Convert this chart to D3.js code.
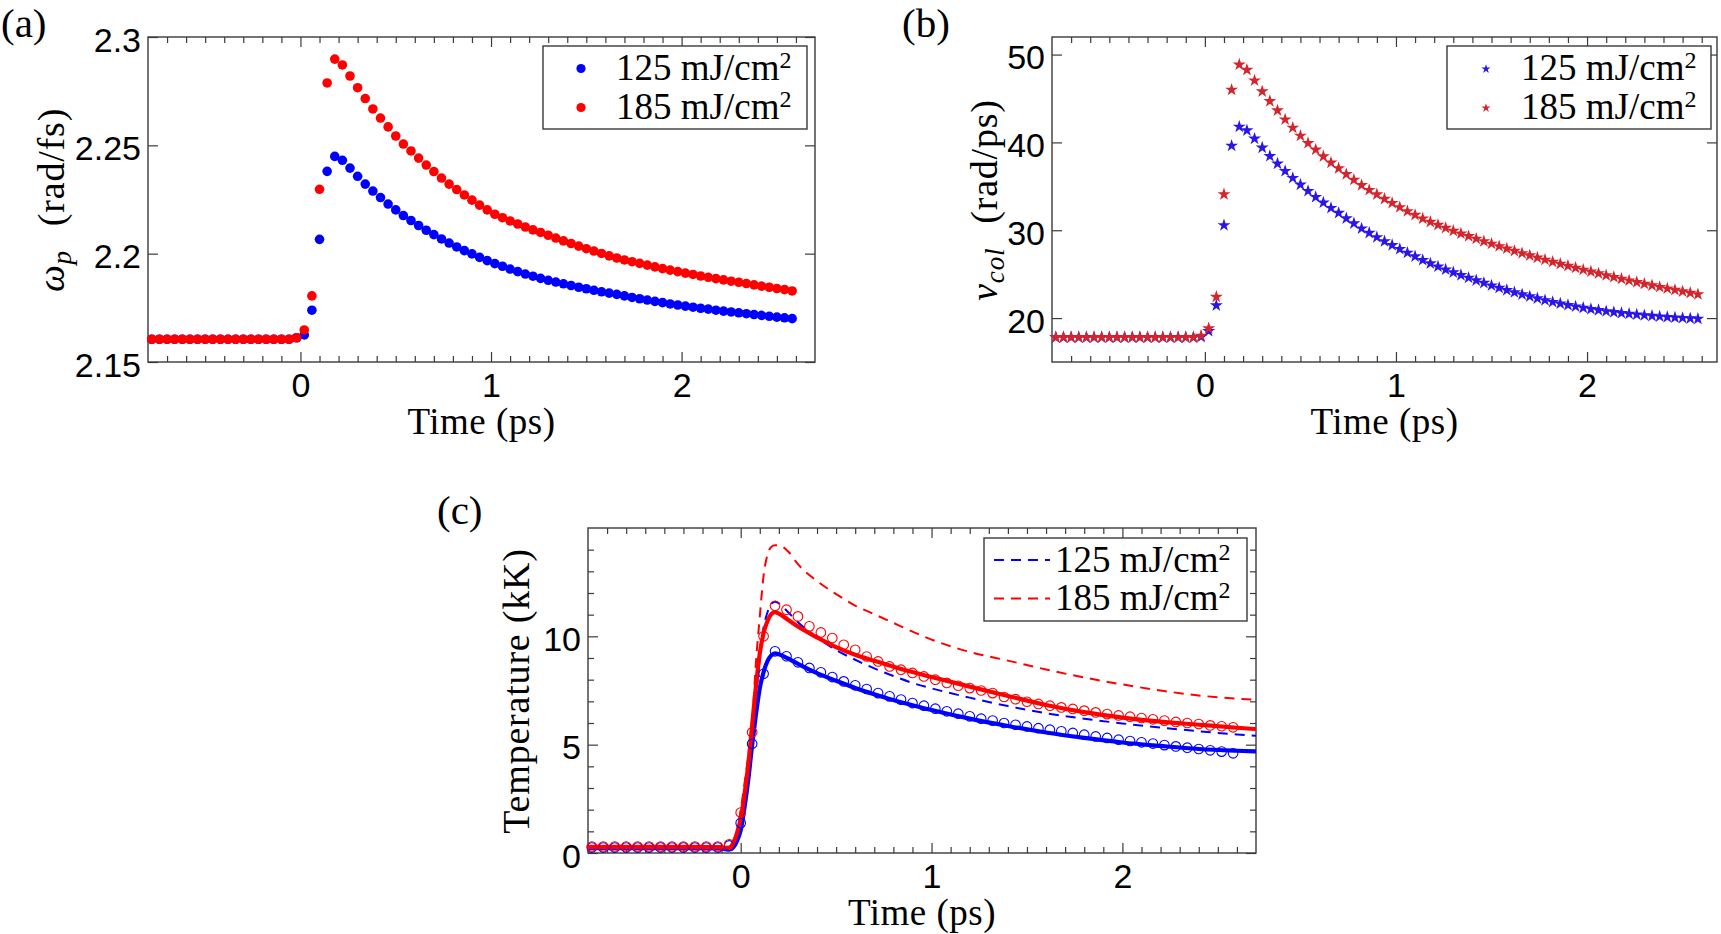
<!DOCTYPE html>
<html>
<head>
<meta charset="utf-8">
<script src="https://cdn.jsdelivr.net/npm/d3@7"></script>
<style>
  html, body { margin: 0; padding: 0; background: #fff; }
  svg { display: block; }
</style>
</head>
<body>
<script>
// ---------------- DATA ----------------
const TIME_AB = [-0.78,-0.74,-0.70,-0.66,-0.62,-0.58,-0.54,-0.50,-0.46,-0.42,-0.38,-0.34,-0.30,-0.26,-0.22,-0.18,-0.14,-0.10,-0.06,
  -0.02,0.02,0.06,0.10,0.14,0.18,0.22,0.26,0.30,0.34,0.38,0.42,0.46,0.50,0.54,0.58,0.62,0.66,0.70,0.74,0.78,0.82,0.86,0.90,0.94,0.98,
  1.02,1.06,1.10,1.14,1.18,1.22,1.26,1.30,1.34,1.38,1.42,1.46,1.50,1.54,1.58,1.62,1.66,1.70,1.74,1.78,1.82,1.86,1.90,1.94,1.98,
  2.02,2.06,2.10,2.14,2.18,2.22,2.26,2.30,2.34,2.38,2.42,2.46,2.50,2.54,2.58];

const WP_125 = [2.1605,2.1605,2.1605,2.1605,2.1605,2.1605,2.1605,2.1605,2.1605,2.1605,2.1605,2.1605,2.1605,2.1605,2.1605,2.1605,2.1605,2.1605,2.1605,
  2.1612,2.1625,2.1739,2.2066,2.2380,2.2449,2.2431,2.2395,2.2357,2.2321,2.2289,2.2259,2.2229,2.2202,2.2176,2.2153,2.2130,2.2108,2.2088,2.2068,
  2.2049,2.2031,2.2014,2.1999,2.1983,2.1968,2.1954,2.1942,2.1929,2.1917,2.1906,2.1896,2.1886,2.1877,2.1869,2.1861,2.1853,2.1845,2.1838,2.1831,
  2.1824,2.1818,2.1812,2.1805,2.1798,2.1792,2.1786,2.1780,2.1774,2.1768,2.1763,2.1758,2.1753,2.1748,2.1744,2.1739,2.1735,2.1731,2.1727,2.1723,
  2.1719,2.1715,2.1711,2.1707,2.1704,2.1700];

const WP_185 = [2.1605,2.1605,2.1605,2.1605,2.1605,2.1605,2.1605,2.1605,2.1605,2.1605,2.1605,2.1605,2.1605,2.1605,2.1605,2.1605,2.1605,2.1605,2.1605,
  2.1612,2.1648,2.1805,2.2297,2.2788,2.2898,2.2871,2.2820,2.2766,2.2716,2.2668,2.2626,2.2585,2.2543,2.2506,2.2474,2.2441,2.2409,2.2379,2.2349,
  2.2321,2.2296,2.2271,2.2247,2.2224,2.2202,2.2182,2.2166,2.2151,2.2137,2.2123,2.2110,2.2098,2.2085,2.2072,2.2059,2.2047,2.2035,2.2023,2.2012,
  2.2001,2.1990,2.1980,2.1971,2.1963,2.1955,2.1947,2.1939,2.1931,2.1924,2.1917,2.1910,2.1904,2.1897,2.1891,2.1885,2.1879,2.1873,2.1868,2.1862,
  2.1856,2.1850,2.1845,2.1839,2.1834,2.1828];

const NU_125 = [17.8,17.8,17.8,17.8,17.8,17.8,17.8,17.8,17.8,17.8,17.8,17.8,17.8,17.8,17.8,17.8,17.8,17.8,17.8,
  17.85,18.52,21.44,30.57,39.62,41.78,41.36,40.42,39.4,38.44,37.58,36.74,35.95,35.19,34.47,33.78,33.15,32.53,31.97,31.35,
  30.78,30.2,29.7,29.2,28.74,28.3,27.86,27.44,27.02,26.6,26.22,25.86,25.52,25.2,24.89,24.59,24.29,24.0,23.71,23.44,
  23.18,22.93,22.69,22.46,22.24,22.03,21.83,21.65,21.48,21.32,21.17,21.03,20.9,20.78,20.67,20.57,20.48,20.4,20.32,20.25,
  20.18,20.12,20.06,20.01,19.96,19.92];

const NU_185 = [17.8,17.8,17.8,17.8,17.8,17.8,17.8,17.8,17.8,17.8,17.8,17.8,17.8,17.8,17.8,17.8,17.8,17.8,17.8,
  17.99,18.83,22.42,34.09,45.99,48.86,48.26,47.05,45.8,44.7,43.64,42.61,41.67,40.76,39.92,39.17,38.41,37.69,37.05,36.38,
  35.74,35.13,34.58,34.08,33.57,33.1,32.62,32.16,31.74,31.33,30.95,30.6,30.26,29.93,29.62,29.32,29.03,28.74,28.46,28.18,
  27.91,27.64,27.38,27.13,26.88,26.64,26.4,26.17,25.94,25.72,25.5,25.29,25.08,24.87,24.67,24.47,24.28,24.09,23.9,23.72,
  23.54,23.37,23.2,23.03,22.87,22.71];

const TIME_C_PTS = [-0.78,-0.72,-0.66,-0.60,-0.54,-0.48,-0.42,-0.36,-0.30,-0.24,-0.18,-0.12,-0.06,
  0.00,0.06,0.12,0.18,0.24,0.30,0.36,0.42,0.48,0.54,0.60,0.66,0.72,0.78,0.84,0.90,0.96,1.02,1.08,1.14,1.20,1.26,1.32,1.38,1.44,
  1.50,1.56,1.62,1.68,1.74,1.80,1.86,1.92,1.98,2.04,2.10,2.16,2.22,2.28,2.34,2.40,2.46,2.52,2.58];

const T_125_PTS = [0.25,0.25,0.25,0.25,0.25,0.25,0.25,0.25,0.25,0.25,0.25,0.25,0.35,
  1.38,5.04,8.27,9.31,9.08,8.80,8.54,8.34,8.12,7.92,7.74,7.57,7.38,7.23,7.08,6.92,6.80,6.66,6.54,6.43,6.31,6.20,6.11,6.0,5.92,
  5.84,5.76,5.69,5.62,5.54,5.46,5.38,5.31,5.23,5.17,5.11,5.05,4.98,4.92,4.86,4.80,4.74,4.68,4.6];

const T_185_PTS = [0.3,0.3,0.3,0.3,0.3,0.3,0.3,0.3,0.3,0.3,0.3,0.3,0.4,
  1.87,5.57,10.0,11.41,11.23,10.92,10.46,10.18,9.92,9.61,9.38,9.07,8.84,8.61,8.46,8.31,8.15,8.0,7.85,7.72,7.61,7.5,7.38,7.2,7.1,
  6.98,6.88,6.8,6.72,6.65,6.57,6.49,6.41,6.35,6.29,6.23,6.17,6.11,6.05,6.0,5.95,5.89,5.85,5.8];

const TIME_C_LINE = [-0.8,-0.4,-0.1,-0.08,-0.06,-0.04,-0.02,0,0.02,0.04,0.06,0.08,0.1,0.12,0.14,0.16,0.18,0.2,0.25,0.3,
  0.4,0.5,0.6,0.7,0.8,0.9,1.0,1.2,1.4,1.6,1.8,2.0,2.2,2.4,2.6,2.7];
const T_125_FIT = [0.22,0.22,0.21,0.18,0.15,0.25,0.55,1.05,2.1,3.4,5.0,6.4,7.6,8.35,8.85,9.12,9.22,9.17,8.97,8.73,
  8.3,7.95,7.62,7.33,7.06,6.82,6.6,6.2,5.86,5.56,5.31,5.1,4.94,4.8,4.72,4.69];
const T_185_FIT = [0.28,0.28,0.27,0.24,0.22,0.45,0.9,1.6,2.7,4.1,5.9,7.7,9.2,10.15,10.7,11.02,11.12,11.05,10.75,10.45,
  9.95,9.5,9.15,8.87,8.6,8.35,8.12,7.68,7.25,6.83,6.5,6.25,6.06,5.92,5.78,5.72];
const T_125_THEORY = [0.22,0.22,0.22,0.22,0.24,0.4,0.8,1.5,2.5,3.8,5.3,7.2,9.0,10.4,11.1,11.5,11.6,11.52,11.1,10.65,
  9.95,9.37,8.92,8.52,8.17,7.85,7.6,7.17,6.78,6.45,6.2,5.98,5.79,5.62,5.47,5.41];
const T_185_THEORY = [0.28,0.28,0.28,0.28,0.3,0.5,1.0,2.0,3.2,4.5,6.0,8.8,10.9,12.8,13.75,14.12,14.2,14.2,13.9,13.33,
  12.55,11.95,11.42,11.02,10.62,10.22,9.85,9.28,8.88,8.47,8.1,7.78,7.5,7.27,7.12,7.07];

const X_TICKS = [0, 1, 2];
const WP_TICKS = [2.15, 2.2, 2.25, 2.3];
const NU_TICKS = [20, 30, 40, 50];
const T_TICKS = [0, 5, 10];
const SERIES = ["125 mJ/cm", "185 mJ/cm"];
const SERIES_SUP = "2";
const PANEL_TAGS = ["(a)", "(b)", "(c)"];

// ---------------- STYLE ----------------
const W = 1721, H = 934;
const SERIF = "'Liberation Serif','Times New Roman',serif";
const SANS = "'Liberation Sans',Arial,Helvetica,sans-serif";
const AX = "#3a3a3a";
const BLUE = "#0000ff", RED = "#ff0000";
const SBLUE = "#2a16e8", SRED = "#d4242c";
const LAB = 38;

const svg = d3.select("body").append("svg").attr("width", W).attr("height", H);

function frame(p) {
  const x = d3.scaleLinear().domain(p.xdom).range([p.x0, p.x1]);
  const y = d3.scaleLinear().domain(p.ydom).range([p.y1, p.y0]);
  const g = svg.append("g");
  const minorX = d3.range(-7, 27).map(d => d / 10).filter(d => Math.abs(d - Math.round(d)) > 1e-6 && d >= p.xdom[0] && d <= p.xdom[1]);
  const style = s => {
    s.select(".domain").remove();
    s.selectAll("line").attr("stroke", AX).attr("stroke-width", 1.2);
    s.attr("font-family", SANS).attr("font-size", 34);
    s.selectAll("text").attr("fill", "#000");
  };
  // bottom
  g.append("g").attr("transform", `translate(0,${p.y1})`)
    .call(d3.axisBottom(x).tickValues(minorX).tickSize(-6).tickFormat("")).call(style);
  g.append("g").attr("transform", `translate(0,${p.y1})`)
    .call(d3.axisBottom(x).tickValues(X_TICKS).tickSize(-10).tickPadding(11).tickFormat(d3.format("d"))).call(style);
  // top
  g.append("g").attr("transform", `translate(0,${p.y0})`)
    .call(d3.axisTop(x).tickValues(minorX).tickSize(-6).tickFormat("")).call(style);
  g.append("g").attr("transform", `translate(0,${p.y0})`)
    .call(d3.axisTop(x).tickValues(X_TICKS).tickSize(-10).tickFormat("")).call(style);
  // left
  const la = g.append("g").attr("transform", `translate(${p.x0},0)`)
    .call(d3.axisLeft(y).tickValues(p.yticks).tickSize(-10).tickPadding(7).tickFormat(d => String(d))).call(style);
  la.selectAll("text").attr("dy", "0.42em");
  g.append("g").attr("transform", `translate(${p.x1},0)`)
    .call(d3.axisRight(y).tickValues(p.yticks).tickSize(-10).tickFormat("")).call(style);
  if (p.yminor) {
    g.append("g").attr("transform", `translate(${p.x0},0)`)
      .call(d3.axisLeft(y).tickValues(p.yminor).tickSize(-6).tickFormat("")).call(style);
    g.append("g").attr("transform", `translate(${p.x1},0)`)
      .call(d3.axisRight(y).tickValues(p.yminor).tickSize(-6).tickFormat("")).call(style);
  }
  g.append("rect").attr("x", p.x0).attr("y", p.y0).attr("width", p.x1 - p.x0).attr("height", p.y1 - p.y0)
    .attr("fill", "none").attr("stroke", AX).attr("stroke-width", 1.4);
  // x label
  svg.append("text").attr("x", (p.x0 + p.x1) / 2).attr("y", p.y1 + 72).attr("text-anchor", "middle")
    .attr("font-family", SERIF).attr("font-size", 37).attr("letter-spacing", 0.5).text("Time (ps)");
  return { x, y, g };
}

function legendText(g, xpos, ypos, label) {
  const t = g.append("text").attr("x", xpos).attr("y", ypos).attr("font-family", SERIF).attr("font-size", 37).text(label);
  t.append("tspan").attr("font-size", 24).attr("dy", -12).text(SERIES_SUP);
}

function legendBox(g, x0, y0, x1, y1) {
  g.append("rect").attr("x", x0).attr("y", y0).attr("width", x1 - x0).attr("height", y1 - y0)
    .attr("fill", "#fff").attr("stroke", AX).attr("stroke-width", 1.4);
}

function yLabel(cx, cy, sym, sub, rest) {
  const yl = svg.append("text").attr("transform", `translate(${cx},${cy}) rotate(-90)`).attr("text-anchor", "middle")
    .attr("font-family", SERIF).attr("font-size", LAB).attr("letter-spacing", 0.8);
  yl.append("tspan").attr("font-style", "italic").text(sym);
  yl.append("tspan").attr("font-style", "italic").attr("font-size", 27).attr("dy", 7).text(sub);
  yl.append("tspan").attr("dy", -7).attr("dx", 24).text(rest);
}

function panelTag(xpos, ypos, label) {
  svg.append("text").attr("x", xpos).attr("y", ypos).attr("font-family", SERIF).attr("font-size", 41).text(label);
}

// ---------------- PANEL (a) ----------------
{
  const p = { x0: 148, x1: 815, y0: 37, y1: 362, xdom: [-0.8, 2.7], ydom: [2.15, 2.3], yticks: WP_TICKS };
  const { x, y, g } = frame(p);
  [[WP_125, BLUE], [WP_185, RED]].forEach(([vals, col]) => {
    g.append("g").selectAll("circle").data(TIME_AB.map((t, i) => [t, vals[i]])).join("circle")
      .attr("cx", d => x(d[0])).attr("cy", d => y(d[1])).attr("r", 4.8).attr("fill", col);
  });
  legendBox(g, 543, 46, 807, 129);
  g.append("circle").attr("cx", 581).attr("cy", 68.5).attr("r", 4.6).attr("fill", BLUE);
  g.append("circle").attr("cx", 581).attr("cy", 107.5).attr("r", 4.6).attr("fill", RED);
  legendText(g, 616, 79.5, SERIES[0]);
  legendText(g, 616, 118.5, SERIES[1]);
  yLabel(64, 200, "ω", "p", "(rad/fs)");
  panelTag(1, 37, PANEL_TAGS[0]);
}

// ---------------- PANEL (b) ----------------
{
  const p = { x0: 1052, x1: 1717, y0: 37, y1: 362, xdom: [-0.8, 2.68], ydom: [15, 52], yticks: NU_TICKS };
  const { x, y, g } = frame(p);
  const star = d3.symbol(d3.symbolStar, 52);
  [[NU_125, SBLUE], [NU_185, SRED]].forEach(([vals, col]) => {
    g.append("g").selectAll("path").data(TIME_AB.map((t, i) => [t, vals[i]])).join("path")
      .attr("transform", d => `translate(${x(d[0])},${y(d[1])})`).attr("d", star).attr("fill", col);
  });
  legendBox(g, 1447, 46, 1711, 129);
  const lstar = d3.symbol(d3.symbolStar, 26);
  g.append("path").attr("transform", "translate(1486,69)").attr("d", lstar).attr("fill", SBLUE);
  g.append("path").attr("transform", "translate(1486,108)").attr("d", lstar).attr("fill", SRED);
  legendText(g, 1521, 79.5, SERIES[0]);
  legendText(g, 1521, 118.5, SERIES[1]);
  yLabel(997, 200, "ν", "col", "(rad/ps)");
  panelTag(902, 37, PANEL_TAGS[1]);
}

// ---------------- PANEL (c) ----------------
{
  const p = { x0: 588, x1: 1256, y0: 528, y1: 853, xdom: [-0.8, 2.7], ydom: [0, 15], yticks: T_TICKS,
              yminor: [1,2,3,4,6,7,8,9,11,12,13,14] };
  const { x, y, g } = frame(p);
  const line = d3.line().x(d => x(d[0])).y(d => y(d[1])).curve(d3.curveMonotoneX);
  const pair = vals => TIME_C_LINE.map((t, i) => [t, vals[i]]);
  g.append("path").attr("d", line(pair(T_125_THEORY))).attr("fill", "none").attr("stroke", BLUE)
    .attr("stroke-width", 2).attr("stroke-dasharray", "10,7");
  g.append("path").attr("d", line(pair(T_185_THEORY))).attr("fill", "none").attr("stroke", RED)
    .attr("stroke-width", 2).attr("stroke-dasharray", "10,7");
  g.append("path").attr("d", line(pair(T_125_FIT))).attr("fill", "none").attr("stroke", BLUE).attr("stroke-width", 4.2);
  g.append("path").attr("d", line(pair(T_185_FIT))).attr("fill", "none").attr("stroke", RED).attr("stroke-width", 4.2);
  [[T_125_PTS, BLUE], [T_185_PTS, RED]].forEach(([vals, col]) => {
    g.append("g").selectAll("circle").data(TIME_C_PTS.map((t, i) => [t, vals[i]])).join("circle")
      .attr("cx", d => x(d[0])).attr("cy", d => y(d[1])).attr("r", 4.8)
      .attr("fill", "none").attr("stroke", col).attr("stroke-width", 1.1);
  });
  legendBox(g, 984, 538, 1247, 621);
  g.append("line").attr("x1", 994).attr("x2", 1050).attr("y1", 560).attr("y2", 560)
    .attr("stroke", BLUE).attr("stroke-width", 2).attr("stroke-dasharray", "10,7");
  g.append("line").attr("x1", 994).attr("x2", 1050).attr("y1", 598.5).attr("y2", 598.5)
    .attr("stroke", RED).attr("stroke-width", 2).attr("stroke-dasharray", "10,7");
  legendText(g, 1055, 571.5, SERIES[0]);
  legendText(g, 1055, 609.5, SERIES[1]);
  svg.append("text").attr("transform", "translate(529,691) rotate(-90)").attr("text-anchor", "middle")
    .attr("font-family", SERIF).attr("font-size", 38).attr("letter-spacing", 0.8).text("Temperature (kK)");
  panelTag(437, 524, PANEL_TAGS[2]);
}
</script>
</body>
</html>
